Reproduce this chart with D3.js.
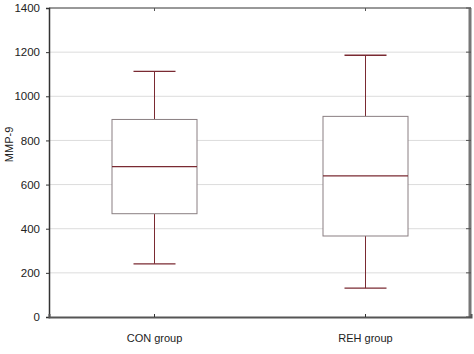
<!DOCTYPE html>
<html lang="en">
<head>
<meta charset="UTF-8">
<title>MMP-9 box plot</title>
<script src="https://d3js.org/d3.v7.min.js"></script>
<style>
  body { margin: 0; background: #fff; }
  svg text { font-family: "Liberation Sans", Arial, sans-serif; font-size: 11px; fill: #222; }
</style>
</head>
<body>
<svg width="474" height="354"></svg>
<script>
// groups and their box statistics
var groups = ["CON group", "REH group"];
var whiskerLow = [241, 131];
var boxLow = [468, 367];
var medians = [681, 639];
var boxHigh = [895, 909];
var whiskerHigh = [1113, 1186];
var yTicks = [0, 200, 400, 600, 800, 1000, 1200, 1400];

var margin = {top: 8, right: 3, bottom: 37, left: 49},
    width = 474 - margin.left - margin.right,
    height = 354 - margin.top - margin.bottom;

var svg = d3.select("svg")
  .append("g")
  .attr("transform", "translate(" + margin.left + "," + margin.top + ")");

var x = d3.scaleBand().domain(groups).range([0, width]).padding(0);
var y = d3.scaleLinear().domain([0, 1400]).range([height, 0]);

// gridlines
svg.append("g").selectAll("line")
  .data(yTicks.slice(1, -1))
  .enter().append("line")
  .attr("x1", 0).attr("x2", width)
  .attr("y1", function(d) { return y(d); })
  .attr("y2", function(d) { return y(d); })
  .attr("stroke", "#dcdcdc").attr("stroke-width", 1);

var data = groups.map(function(g, i) {
  return {name: g, wl: whiskerLow[i], bl: boxLow[i], md: medians[i], bh: boxHigh[i], wh: whiskerHigh[i]};
});

var boxW = 85, capW = 42, wcol = "#7a2a32";

var box = svg.selectAll(".box").data(data).enter().append("g")
  .attr("class", "box")
  .attr("transform", function(d) { return "translate(" + (x(d.name) + x.bandwidth() / 2) + ",0)"; });

box.append("line")
  .attr("x1", 0).attr("x2", 0)
  .attr("y1", function(d) { return y(d.wl); })
  .attr("y2", function(d) { return y(d.bl); })
  .attr("stroke", wcol);
box.append("line")
  .attr("x1", 0).attr("x2", 0)
  .attr("y1", function(d) { return y(d.bh); })
  .attr("y2", function(d) { return y(d.wh); })
  .attr("stroke", wcol);
box.append("line")
  .attr("x1", -capW / 2).attr("x2", capW / 2)
  .attr("y1", function(d) { return y(d.wl); })
  .attr("y2", function(d) { return y(d.wl); })
  .attr("stroke", wcol).attr("stroke-width", 1.3);
box.append("line")
  .attr("x1", -capW / 2).attr("x2", capW / 2)
  .attr("y1", function(d) { return y(d.wh); })
  .attr("y2", function(d) { return y(d.wh); })
  .attr("stroke", wcol).attr("stroke-width", 1.3);
box.append("rect")
  .attr("x", -boxW / 2).attr("width", boxW)
  .attr("y", function(d) { return y(d.bh); })
  .attr("height", function(d) { return y(d.bl) - y(d.bh); })
  .attr("fill", "#fff").attr("stroke", "#8a7f82");
box.append("line")
  .attr("x1", -boxW / 2).attr("x2", boxW / 2)
  .attr("y1", function(d) { return y(d.md); })
  .attr("y2", function(d) { return y(d.md); })
  .attr("stroke", wcol).attr("stroke-width", 1.3);

// frame
svg.append("line").attr("x1", 0).attr("x2", width).attr("y1", 0).attr("y2", 0)
  .attr("stroke", "#333");
svg.append("line").attr("x1", width - 1).attr("x2", width - 1).attr("y1", 0).attr("y2", height)
  .attr("stroke", "#777").attr("stroke-width", 3);

// right inner ticks
svg.append("g").selectAll("line")
  .data(yTicks)
  .enter().append("line")
  .attr("x1", width - 5).attr("x2", width)
  .attr("y1", function(d) { return y(d); })
  .attr("y2", function(d) { return y(d); })
  .attr("stroke", "#555");

// top inner ticks
svg.append("g").selectAll("line")
  .data(groups)
  .enter().append("line")
  .attr("x1", function(d) { return x(d) + x.bandwidth() / 2; })
  .attr("x2", function(d) { return x(d) + x.bandwidth() / 2; })
  .attr("y1", 0).attr("y2", 3)
  .attr("stroke", "#555");

// y axis
var yAxis = svg.append("g")
  .call(d3.axisLeft(y).tickValues(yTicks).tickFormat(d3.format("d")).tickSize(3).tickPadding(6));
yAxis.select(".domain").attr("stroke", "#333").attr("stroke-width", 1.5);
yAxis.selectAll(".tick line").attr("stroke", "#333");
yAxis.selectAll("text").style("font-size", "11.5px");

// x axis
var xAxis = svg.append("g")
  .attr("transform", "translate(0," + height + ")")
  .call(d3.axisBottom(x).tickSize(-3).tickPadding(17));
xAxis.select(".domain").attr("stroke", "#555").attr("stroke-width", 2);
xAxis.selectAll(".tick line").attr("stroke", "#333");

// y label
svg.append("text")
  .attr("transform", "rotate(-90)")
  .attr("x", -y(800) - 4)
  .attr("y", -36)
  .attr("text-anchor", "middle")
  .text("MMP-9");
</script>
</body>
</html>
